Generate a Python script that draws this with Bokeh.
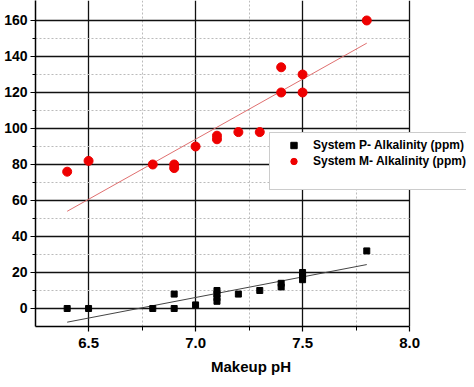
from bokeh.plotting import figure
from bokeh.models import FixedTicker, Range1d, Legend, LegendItem, PrintfTickFormatter
from bokeh.embed import file_html
from bokeh.resources import INLINE

# ---- data ----
ph_p = [6.4, 6.5, 6.8, 6.9, 6.9, 7.0, 7.1, 7.1, 7.1, 7.1, 7.2, 7.3, 7.4, 7.4, 7.5, 7.5, 7.5, 7.8]
p_alk = [0, 0, 0, 8, 0, 2, 4, 6, 8, 10, 8, 10, 12, 14, 16, 18, 20, 32]
ph_m = [6.4, 6.5, 6.8, 6.9, 6.9, 7.0, 7.1, 7.1, 7.2, 7.3, 7.4, 7.4, 7.5, 7.5, 7.8]
m_alk = [76, 82, 80, 80, 78, 90, 96, 94, 98, 98, 134, 120, 130, 120, 160]
fit_ph = [6.4, 7.8]
p_fit = [-7.6, 24.4]
m_fit = [54.0, 147.4]
x_ticks = [6.5, 7.0, 7.5, 8.0]
x_minor = [6.75, 7.25, 7.75]
y_ticks = [0, 20, 40, 60, 80, 100, 120, 140, 160]
y_minor = [10, 30, 50, 70, 90, 110, 130, 150]
p_label = "System P- Alkalinity (ppm)"
m_label = "System M- Alkalinity (ppm)"
x_title = "Makeup pH"

FONT = "Liberation Sans"

p = figure(width=466, height=379,
           x_range=Range1d(6.252, 8.266), y_range=Range1d(-10, 171.1),
           output_backend="svg", toolbar_location=None,
           min_border_left=35, min_border_right=0, min_border_top=0, min_border_bottom=53)
p.outline_line_color = None
p.background_fill_color = "white"

# axes
xa = p.xaxis[0]
xa.ticker = FixedTicker(ticks=x_ticks, minor_ticks=x_minor)
xa.formatter = PrintfTickFormatter(format="%.1f")
xa.bounds = (6.252, 8.0)
xa.axis_line_color = "black"
xa.axis_line_width = 1.5
xa.major_tick_in = 0
xa.major_tick_out = 5
xa.minor_tick_in = 0
xa.minor_tick_out = 4
xa.major_tick_line_width = 1.2
xa.major_label_standoff = 6
xa.major_label_text_font = FONT
xa.major_label_text_font_style = "bold"
xa.major_label_text_font_size = "15px"
xa.major_label_text_color = "black"
xa.axis_label = x_title
xa.axis_label_text_font = FONT
xa.axis_label_text_font_style = "bold"
xa.axis_label_text_font_size = "15px"
xa.axis_label_text_color = "black"
xa.axis_label_standoff = 7

ya = p.yaxis[0]
ya.ticker = FixedTicker(ticks=y_ticks, minor_ticks=y_minor)
ya.axis_line_color = "black"
ya.axis_line_width = 1.5
ya.major_tick_in = 0
ya.major_tick_out = 5
ya.minor_tick_in = 0
ya.minor_tick_out = 3
ya.major_label_standoff = 3
ya.major_label_text_font = FONT
ya.major_label_text_font_style = "bold"
ya.major_label_text_font_size = "14px"
ya.major_label_text_color = "black"

# grids
xg = p.xgrid[0]
xg.ticker = FixedTicker(ticks=x_ticks, minor_ticks=x_minor)
xg.bounds = (6.2, 7.9)
xg.grid_line_color = "#111111"
xg.grid_line_width = 1.3
xg.minor_grid_line_color = "#bbbbbb"
xg.minor_grid_line_dash = "2 2"

yg = p.ygrid[0]
yg.ticker = FixedTicker(ticks=y_ticks, minor_ticks=y_minor)
yg.cross_bounds = (6.252, 8.0)
yg.grid_line_color = "#111111"
yg.grid_line_width = 1.3
yg.minor_grid_line_color = "#bbbbbb"
yg.minor_grid_line_dash = "2 2"

# fit lines
p.line(fit_ph, m_fit, line_color="#e07070", line_width=1)
p.line(fit_ph, p_fit, line_color="#444444", line_width=1)

# points
rp = p.scatter(ph_p, p_alk, marker="square", size=6, fill_color="black", line_color="black")
rm = p.scatter(ph_m, m_alk, marker="circle", size=9, fill_color="#ee0000", line_color="#ee0000")
dummy = p.scatter([], [], marker="square", size=1, fill_alpha=0, line_alpha=0)

legend = Legend(items=[LegendItem(label=p_label, renderers=[rp]),
                       LegendItem(label=m_label, renderers=[rm]),
                       LegendItem(label=" ", renderers=[dummy])],
                location=(234, 136))
legend.padding = 4
legend.margin = 0
legend.spacing = 0
legend.glyph_width = 39
legend.glyph_height = 16
legend.label_height = 16
legend.label_standoff = 0
legend.label_width = 165
legend.border_line_color = "#999999"
legend.border_line_width = 1
legend.background_fill_color = "white"
legend.background_fill_alpha = 1
legend.label_text_font = FONT
legend.label_text_font_style = "bold"
legend.label_text_font_size = "12px"
legend.label_text_color = "black"
p.add_layout(legend)

open("out.html", "w").write(file_html(p, INLINE))
